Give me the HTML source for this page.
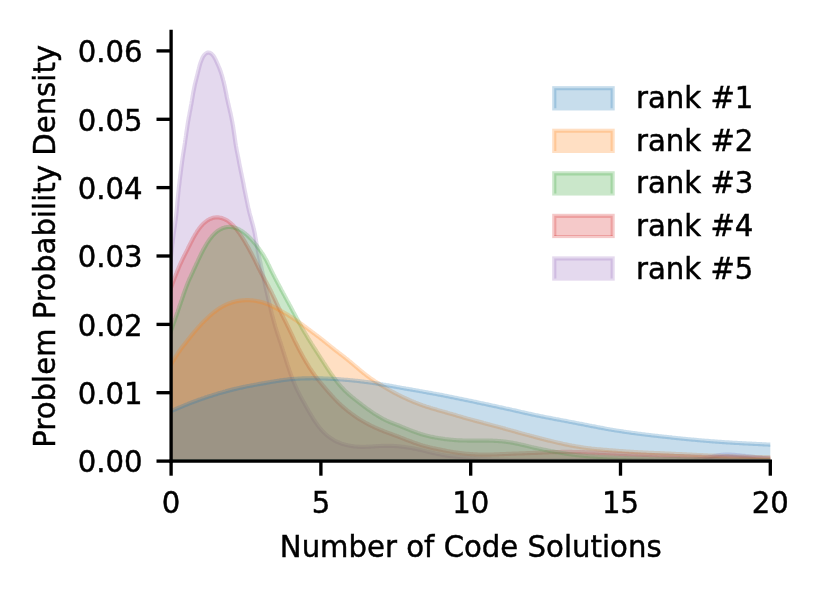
<!DOCTYPE html>
<html><head><meta charset="utf-8"><title>KDE plot</title>
<style>
html,body{margin:0;padding:0;background:#fff;}
svg{display:block;}
text{font-family:"DejaVu Sans","Liberation Sans",sans-serif;font-size:29.17px;fill:#000;stroke:#000;stroke-width:0.45px;}
</style></head><body>
<svg width="820" height="598" viewBox="0 0 820 598">
<rect width="820" height="598" fill="#fff"/>
<defs><clipPath id="ax"><rect x="171.1" y="31.5" width="599.2" height="429.6"/></clipPath></defs>

<g clip-path="url(#ax)" stroke-width="4.17" stroke-linejoin="round">
<path d="M165.1,461.1L164.0,338.1L170.0,267.9L170.1,266.9L170.2,265.9L170.3,264.9L170.4,263.9L170.5,262.9L170.6,261.9L170.7,260.9L170.7,259.9L170.8,258.9L170.9,257.9L171.0,256.9L171.1,255.9L171.2,254.9L171.3,254.0L171.4,253.0L171.5,252.0L171.6,251.0L171.7,250.0L171.8,249.0L171.9,248.0L172.0,247.0L172.1,246.0L172.2,245.0L172.3,244.0L172.5,243.0L172.6,242.0L172.7,241.0L172.8,240.0L173.0,239.0L173.1,238.0L173.2,237.0L173.4,236.0L173.5,235.0L173.6,234.0L173.8,233.1L173.9,232.1L174.1,231.1L174.2,230.1L174.3,229.1L174.5,228.1L174.6,227.1L174.8,226.1L174.9,225.1L175.0,224.2L175.2,223.2L175.3,222.2L175.4,221.2L175.6,220.2L175.7,219.2L175.8,218.2L175.9,217.2L176.1,216.2L176.2,215.3L176.3,214.3L176.4,213.3L176.5,212.3L176.6,211.3L176.7,210.3L176.8,209.3L176.9,208.3L177.0,207.3L177.1,206.3L177.2,205.3L177.3,204.3L177.3,203.3L177.4,202.3L177.5,201.3L177.6,200.3L177.7,199.3L177.8,198.3L177.9,197.4L178.0,196.4L178.1,195.4L178.2,194.4L178.3,193.4L178.4,192.4L178.5,191.4L178.6,190.4L178.7,189.4L178.8,188.4L178.9,187.4L179.0,186.4L179.1,185.4L179.3,184.4L179.4,183.4L179.5,182.4L179.6,181.4L179.7,180.4L179.8,179.4L180.0,178.4L180.1,177.4L180.2,176.4L180.3,175.5L180.5,174.5L180.6,173.5L180.7,172.5L180.8,171.5L181.0,170.5L181.1,169.5L181.2,168.5L181.3,167.5L181.5,166.5L181.6,165.5L181.7,164.5L181.9,163.5L182.0,162.6L182.1,161.6L182.3,160.6L182.4,159.6L182.5,158.6L182.7,157.6L182.8,156.6L183.0,155.6L183.1,154.6L183.3,153.6L183.4,152.6L183.6,151.7L183.7,150.7L183.9,149.7L184.1,148.7L184.2,147.7L184.4,146.7L184.5,145.7L184.7,144.7L184.8,143.8L185.0,142.8L185.1,141.8L185.2,140.8L185.4,139.8L185.5,138.8L185.7,137.8L185.8,136.8L186.0,135.8L186.1,134.9L186.2,133.9L186.4,132.9L186.5,131.9L186.7,130.9L186.8,129.9L187.0,128.9L187.1,127.9L187.3,126.9L187.4,125.9L187.6,124.9L187.7,124.0L187.9,123.0L188.0,122.0L188.2,121.0L188.4,120.0L188.6,119.0L188.7,118.0L188.9,117.0L189.1,116.1L189.3,115.1L189.5,114.1L189.6,113.1L189.8,112.1L190.0,111.1L190.2,110.2L190.4,109.2L190.6,108.2L190.7,107.2L190.9,106.2L191.1,105.2L191.3,104.3L191.5,103.3L191.6,102.3L191.8,101.3L192.0,100.3L192.1,99.3L192.3,98.4L192.5,97.4L192.6,96.4L192.8,95.4L193.0,94.4L193.1,93.4L193.3,92.4L193.5,91.4L193.7,90.5L193.9,89.5L194.1,88.5L194.3,87.5L194.5,86.5L194.7,85.5L194.9,84.5L195.1,83.6L195.4,82.6L195.6,81.6L195.9,80.6L196.1,79.7L196.4,78.7L196.6,77.7L196.8,76.8L197.1,75.8L197.3,74.8L197.6,73.9L197.8,72.9L198.0,71.9L198.3,71.0L198.5,70.0L198.8,69.0L199.0,68.0L199.3,67.1L199.5,66.1L199.8,65.1L200.1,64.1L200.4,63.1L200.7,62.2L201.1,61.2L201.5,60.2L201.9,59.2L202.3,58.2L202.8,57.2L203.3,56.3L204.0,55.4L204.7,54.5L205.5,53.8L206.4,53.1L207.4,52.7L208.5,52.6L209.6,52.8L210.6,53.2L211.5,53.8L212.3,54.6L213.0,55.4L213.7,56.3L214.3,57.2L214.8,58.2L215.3,59.1L215.8,60.1L216.2,61.0L216.7,61.9L217.1,62.9L217.5,63.8L217.9,64.7L218.3,65.6L218.7,66.6L219.1,67.5L219.5,68.5L219.8,69.4L220.2,70.3L220.5,71.3L220.9,72.3L221.2,73.2L221.5,74.2L221.8,75.1L222.1,76.1L222.3,77.1L222.6,78.0L222.9,79.0L223.1,80.0L223.4,81.0L223.6,81.9L223.9,82.9L224.1,83.9L224.3,84.9L224.6,85.9L224.8,86.8L225.0,87.8L225.2,88.8L225.4,89.8L225.6,90.8L225.8,91.8L226.0,92.7L226.2,93.7L226.4,94.7L226.5,95.7L226.7,96.7L226.9,97.6L227.1,98.6L227.4,99.6L227.6,100.6L227.8,101.5L228.0,102.5L228.2,103.5L228.4,104.4L228.7,105.4L228.9,106.4L229.1,107.4L229.4,108.3L229.6,109.3L229.8,110.3L230.0,111.3L230.2,112.2L230.5,113.2L230.7,114.2L230.9,115.2L231.1,116.2L231.3,117.1L231.5,118.1L231.7,119.1L231.9,120.1L232.1,121.1L232.3,122.1L232.5,123.1L232.6,124.1L232.8,125.0L233.0,126.0L233.1,127.0L233.3,128.0L233.4,129.0L233.6,130.0L233.7,131.0L233.9,132.0L234.0,133.0L234.2,134.0L234.3,135.0L234.5,135.9L234.6,136.9L234.7,137.9L234.9,138.9L235.0,139.9L235.2,140.9L235.3,141.9L235.4,142.9L235.6,143.8L235.8,144.8L235.9,145.8L236.1,146.8L236.3,147.8L236.4,148.7L236.6,149.7L236.8,150.7L237.0,151.7L237.2,152.7L237.4,153.6L237.6,154.6L237.8,155.6L238.0,156.6L238.2,157.5L238.4,158.5L238.6,159.5L238.8,160.5L239.0,161.5L239.1,162.5L239.3,163.4L239.5,164.4L239.7,165.4L239.9,166.4L240.1,167.4L240.3,168.3L240.5,169.3L240.7,170.3L240.9,171.3L241.1,172.3L241.3,173.2L241.5,174.2L241.7,175.2L241.9,176.2L242.1,177.2L242.3,178.1L242.5,179.1L242.7,180.1L242.9,181.1L243.1,182.1L243.3,183.0L243.5,184.0L243.7,185.0L243.8,186.0L244.0,187.0L244.2,188.0L244.4,188.9L244.6,189.9L244.8,190.9L245.0,191.9L245.2,192.9L245.4,193.8L245.6,194.8L245.8,195.8L246.0,196.8L246.2,197.8L246.4,198.7L246.6,199.7L246.8,200.7L247.0,201.7L247.2,202.7L247.4,203.6L247.6,204.6L247.8,205.6L248.0,206.5L248.2,207.5L248.5,208.5L248.7,209.5L248.9,210.4L249.2,211.4L249.4,212.4L249.6,213.3L249.9,214.3L250.1,215.3L250.4,216.2L250.7,217.2L250.9,218.1L251.2,219.1L251.4,220.1L251.7,221.0L252.0,222.0L252.2,223.0L252.5,223.9L252.8,224.9L253.0,225.9L253.3,226.8L253.5,227.8L253.7,228.8L254.0,229.8L254.2,230.8L254.4,231.7L254.6,232.7L254.8,233.7L255.0,234.7L255.1,235.7L255.3,236.7L255.5,237.7L255.7,238.6L255.8,239.6L256.0,240.6L256.2,241.6L256.4,242.6L256.5,243.6L256.7,244.5L256.9,245.5L257.1,246.5L257.3,247.5L257.5,248.5L257.6,249.4L257.8,250.4L258.0,251.4L258.2,252.4L258.4,253.4L258.6,254.3L258.8,255.3L259.0,256.3L259.2,257.3L259.4,258.2L259.6,259.2L259.8,260.2L260.0,261.2L260.3,262.2L260.5,263.1L260.7,264.1L260.9,265.1L261.1,266.1L261.3,267.0L261.5,268.0L261.7,269.0L261.9,270.0L262.1,271.0L262.4,271.9L262.6,272.9L262.8,273.9L263.0,274.9L263.2,275.9L263.4,276.8L263.6,277.8L263.8,278.8L264.0,279.8L264.2,280.7L264.4,281.7L264.7,282.7L264.9,283.7L265.1,284.6L265.3,285.6L265.5,286.6L265.7,287.6L266.0,288.5L266.2,289.5L266.4,290.5L266.6,291.5L266.9,292.4L267.1,293.4L267.3,294.4L267.5,295.4L267.8,296.3L268.0,297.3L268.2,298.3L268.4,299.3L268.7,300.2L268.9,301.2L269.1,302.2L269.3,303.2L269.5,304.1L269.8,305.1L270.0,306.1L270.2,307.0L270.5,308.0L270.7,309.0L270.9,310.0L271.1,310.9L271.4,311.9L271.6,312.9L271.8,313.8L272.1,314.8L272.3,315.8L272.6,316.7L272.8,317.7L273.1,318.7L273.3,319.6L273.6,320.6L273.9,321.5L274.1,322.5L274.4,323.5L274.7,324.4L275.0,325.4L275.2,326.3L275.5,327.3L275.8,328.2L276.1,329.2L276.4,330.1L276.7,331.1L277.0,332.0L277.3,333.0L277.6,333.9L277.9,334.9L278.3,335.8L278.6,336.8L278.9,337.7L279.2,338.7L279.5,339.6L279.8,340.6L280.1,341.5L280.5,342.5L280.8,343.4L281.1,344.4L281.4,345.3L281.7,346.3L282.0,347.2L282.3,348.2L282.6,349.2L282.9,350.1L283.2,351.1L283.5,352.0L283.8,353.0L284.1,353.9L284.4,354.9L284.7,355.8L285.0,356.8L285.3,357.7L285.6,358.7L285.9,359.7L286.2,360.6L286.5,361.6L286.8,362.5L287.1,363.5L287.4,364.4L287.7,365.4L288.0,366.3L288.4,367.3L288.7,368.2L289.0,369.1L289.3,370.1L289.6,371.0L290.0,372.0L290.3,372.9L290.6,373.9L291.0,374.8L291.3,375.7L291.6,376.7L292.0,377.6L292.3,378.5L292.7,379.4L293.1,380.4L293.4,381.3L293.8,382.2L294.2,383.1L294.6,384.1L295.0,385.0L295.4,385.9L295.8,386.8L296.2,387.7L296.6,388.6L297.0,389.5L297.4,390.4L297.9,391.3L298.3,392.1L298.8,393.0L299.2,393.9L299.7,394.8L300.1,395.7L300.6,396.6L301.1,397.4L301.6,398.3L302.0,399.2L302.5,400.1L303.0,400.9L303.5,401.8L304.0,402.7L304.5,403.5L305.0,404.4L305.4,405.3L305.9,406.2L306.4,407.0L306.9,407.9L307.4,408.8L307.9,409.7L308.4,410.5L308.9,411.4L309.4,412.3L309.9,413.1L310.4,414.0L310.9,414.9L311.4,415.7L312.0,416.6L312.5,417.4L313.0,418.3L313.5,419.1L314.1,420.0L314.6,420.8L315.2,421.6L315.7,422.4L316.3,423.3L316.9,424.1L317.5,424.9L318.0,425.7L318.6,426.4L319.2,427.2L319.9,428.0L320.5,428.7L321.1,429.5L321.8,430.2L322.5,430.9L323.1,431.7L323.8,432.4L324.5,433.0L325.2,433.7L326.0,434.4L326.7,435.0L327.4,435.7L328.2,436.3L329.0,436.9L329.8,437.5L330.6,438.0L331.4,438.6L332.2,439.1L333.0,439.6L333.8,440.1L334.7,440.6L335.5,441.0L336.4,441.5L337.3,441.9L338.2,442.3L339.1,442.6L340.0,443.0L340.9,443.3L341.8,443.7L342.8,444.0L343.7,444.3L344.7,444.5L345.6,444.8L346.6,445.0L347.5,445.3L348.5,445.5L349.4,445.6L350.4,445.8L351.4,446.0L352.4,446.1L353.3,446.2L354.3,446.4L355.3,446.5L356.3,446.5L357.3,446.6L358.2,446.7L359.2,446.7L360.2,446.8L361.2,446.8L362.2,446.8L363.2,446.8L364.2,446.8L365.2,446.8L366.2,446.7L367.2,446.7L368.2,446.7L369.2,446.6L370.2,446.6L371.2,446.5L372.2,446.5L373.1,446.4L374.1,446.3L375.1,446.3L376.1,446.2L377.1,446.2L378.1,446.1L379.2,446.0L380.2,446.0L381.2,445.9L382.2,445.9L383.2,445.9L384.2,445.8L385.2,445.8L386.2,445.8L387.2,445.8L388.2,445.8L389.2,445.8L390.2,445.8L391.2,445.8L392.2,445.9L393.2,445.9L394.3,446.0L395.3,446.1L396.3,446.1L397.3,446.2L398.3,446.3L399.3,446.4L400.3,446.5L401.3,446.6L402.3,446.7L403.3,446.8L404.3,446.9L405.3,447.1L406.3,447.2L407.3,447.4L408.3,447.5L409.3,447.7L410.2,447.8L411.2,448.0L412.2,448.2L413.2,448.4L414.2,448.6L415.2,448.8L416.2,449.0L417.2,449.2L418.1,449.4L419.1,449.6L420.1,449.8L421.1,450.1L422.1,450.3L423.0,450.5L424.0,450.7L425.0,451.0L426.0,451.2L426.9,451.5L427.9,451.7L428.9,451.9L429.9,452.2L430.8,452.4L431.8,452.6L432.8,452.9L433.7,453.1L434.7,453.3L435.7,453.5L436.6,453.7L437.6,453.9L438.6,454.1L439.6,454.3L440.5,454.5L441.5,454.7L442.5,454.9L443.5,455.1L444.4,455.2L445.4,455.4L446.4,455.6L447.4,455.7L448.4,455.8L449.3,456.0L450.3,456.1L451.3,456.2L452.3,456.3L453.3,456.4L454.3,456.5L455.3,456.6L456.3,456.7L457.3,456.8L458.3,456.9L459.3,457.0L460.2,457.1L461.2,457.2L462.2,457.3L463.2,457.4L464.2,457.5L465.2,457.6L466.2,457.7L467.2,457.7L468.2,457.8L469.2,457.9L470.2,458.0L471.2,458.1L472.2,458.2L473.2,458.3L474.2,458.3L475.2,458.4L476.2,458.5L477.2,458.6L478.2,458.7L479.2,458.7L480.2,458.8L481.2,458.9L482.1,458.9L483.1,459.0L484.1,459.1L485.1,459.1L486.1,459.2L487.1,459.2L488.1,459.3L489.1,459.4L490.1,459.4L491.1,459.4L492.1,459.5L493.1,459.5L494.1,459.6L495.1,459.6L496.1,459.6L497.1,459.7L498.1,459.7L499.1,459.7L500.1,459.8L501.1,459.8L502.1,459.8L503.1,459.8L504.1,459.9L505.1,459.9L506.1,459.9L507.1,459.9L508.1,459.9L509.1,460.0L510.1,460.0L511.1,460.0L512.1,460.0L513.1,460.0L514.1,460.0L515.1,460.0L516.1,460.0L517.1,460.0L518.1,460.1L519.1,460.1L520.1,460.1L521.1,460.1L522.1,460.1L523.1,460.1L524.1,460.1L525.1,460.1L526.1,460.1L527.1,460.1L528.1,460.1L529.1,460.1L530.1,460.1L531.1,460.1L532.1,460.1L533.1,460.1L534.1,460.1L535.1,460.1L536.1,460.1L537.1,460.1L538.1,460.1L539.1,460.1L540.1,460.1L541.1,460.1L542.1,460.1L543.1,460.1L544.1,460.1L545.1,460.1L546.1,460.1L547.1,460.1L548.1,460.1L549.1,460.1L550.1,460.1L551.1,460.1L552.1,460.1L553.1,460.1L554.1,460.1L555.1,460.1L556.1,460.1L557.1,460.1L558.1,460.1L559.1,460.1L560.1,460.1L561.1,460.1L562.1,460.1L563.1,460.1L564.1,460.1L565.1,460.1L566.1,460.1L567.1,460.1L568.1,460.1L569.1,460.1L570.1,460.1L571.1,460.1L572.1,460.1L573.1,460.1L574.1,460.1L575.1,460.1L576.1,460.1L577.1,460.1L578.1,460.1L579.1,460.1L580.1,460.1L581.1,460.1L582.1,460.1L583.1,460.1L584.1,460.1L585.1,460.1L586.1,460.1L587.1,460.1L588.1,460.1L589.1,460.1L590.1,460.1L591.1,460.1L592.1,460.1L593.1,460.1L594.1,460.1L595.1,460.1L596.1,460.1L597.1,460.1L598.1,460.1L599.1,460.1L600.1,460.1L601.1,460.1L602.1,460.1L603.1,460.1L604.1,460.1L605.1,460.1L606.1,460.1L607.1,460.1L608.1,460.1L609.1,460.1L610.1,460.1L611.1,460.1L612.1,460.1L613.1,460.1L614.1,460.1L615.1,460.1L616.1,460.1L617.1,460.1L618.1,460.1L619.1,460.1L620.1,460.1L621.1,460.1L622.1,460.1L623.1,460.1L624.1,460.1L625.1,460.1L626.1,460.1L627.1,460.1L628.1,460.1L629.1,460.1L630.1,460.1L631.1,460.1L632.1,460.1L633.1,460.1L634.1,460.1L635.1,460.1L636.1,460.1L637.1,460.1L638.1,460.1L639.1,460.1L640.1,460.1L641.1,460.1L642.1,460.1L643.1,460.1L644.1,460.1L645.1,460.1L646.1,460.1L647.1,460.1L648.1,460.1L649.1,460.1L650.1,460.1L651.1,460.1L652.1,460.1L653.1,460.1L654.1,460.1L655.1,460.1L656.1,460.1L657.1,460.1L658.1,460.1L659.1,460.1L660.1,460.1L661.1,460.1L662.1,460.1L663.1,460.1L664.1,460.1L665.1,460.1L666.1,460.1L667.1,460.1L668.1,460.1L669.1,460.1L670.1,460.1L671.1,460.1L672.1,460.1L673.1,460.1L674.1,460.1L675.1,460.2L676.1,460.2L677.1,460.2L678.1,460.2L679.1,460.2L680.1,460.2L681.1,460.2L682.1,460.2L683.1,460.2L684.1,460.2L685.1,460.2L686.1,460.2L687.1,460.2L688.1,460.2L689.1,460.2L690.0,460.2L691.0,460.1L692.0,460.1L693.0,460.0L694.0,460.0L695.0,459.9L695.9,459.8L696.9,459.7L697.9,459.6L698.9,459.4L699.8,459.3L700.8,459.1L701.8,459.0L702.7,458.8L703.7,458.6L704.7,458.4L705.6,458.2L706.6,457.9L707.6,457.7L708.5,457.5L709.5,457.2L710.5,457.0L711.4,456.7L712.4,456.5L713.4,456.2L714.4,456.0L715.4,455.8L716.4,455.6L717.4,455.4L718.4,455.3L719.4,455.1L720.4,455.0L721.4,454.9L722.4,454.8L723.4,454.7L724.4,454.7L725.4,454.6L726.4,454.6L727.4,454.6L728.5,454.6L729.5,454.6L730.5,454.7L731.5,454.7L732.5,454.8L733.5,454.9L734.5,454.9L735.5,455.0L736.5,455.1L737.5,455.2L738.5,455.3L739.5,455.4L740.5,455.5L741.5,455.6L742.5,455.7L743.5,455.8L744.5,455.9L745.5,456.1L746.5,456.2L747.5,456.3L748.5,456.4L749.5,456.5L750.5,456.6L751.5,456.8L752.5,456.9L753.5,457.0L754.4,457.1L755.4,457.2L756.4,457.4L757.4,457.5L758.4,457.6L759.4,457.7L760.4,457.8L761.4,457.9L762.4,458.1L763.4,458.2L764.4,458.3L765.4,458.4L766.4,458.5L767.4,458.6L768.3,458.7L769.3,458.9L770.4,459.0L776.3,459.0L776.3,461.1Z" fill="#9467bd" fill-opacity="0.25" stroke="#9467bd" stroke-opacity="0.25"/>
<path d="M165.1,461.1L165.0,305.3L171.0,287.9L171.3,287.0L171.6,286.0L172.0,285.1L172.3,284.1L172.6,283.2L173.0,282.3L173.3,281.3L173.7,280.4L174.0,279.5L174.4,278.5L174.7,277.6L175.1,276.7L175.5,275.7L175.8,274.8L176.2,273.9L176.6,272.9L176.9,272.0L177.3,271.1L177.7,270.2L178.1,269.2L178.5,268.3L178.8,267.4L179.2,266.5L179.6,265.6L180.0,264.6L180.4,263.7L180.9,262.8L181.3,261.9L181.7,261.0L182.1,260.1L182.5,259.2L183.0,258.3L183.4,257.4L183.9,256.5L184.3,255.6L184.8,254.7L185.2,253.8L185.7,252.9L186.1,252.0L186.6,251.2L187.0,250.3L187.5,249.4L187.9,248.5L188.4,247.6L188.8,246.7L189.3,245.8L189.7,244.9L190.2,244.0L190.6,243.1L191.1,242.2L191.5,241.3L192.0,240.4L192.5,239.5L192.9,238.6L193.4,237.7L193.9,236.8L194.4,236.0L194.9,235.1L195.4,234.2L196.0,233.3L196.5,232.5L197.0,231.6L197.6,230.8L198.2,229.9L198.8,229.1L199.4,228.3L200.0,227.5L200.6,226.7L201.3,225.9L201.9,225.2L202.6,224.5L203.3,223.7L204.1,223.1L204.8,222.4L205.6,221.8L206.4,221.2L207.2,220.6L208.0,220.1L208.9,219.6L209.7,219.1L210.6,218.7L211.5,218.4L212.4,218.1L213.4,217.8L214.3,217.6L215.2,217.5L216.2,217.4L217.1,217.4L218.1,217.4L219.1,217.5L220.0,217.7L220.9,217.9L221.9,218.1L222.8,218.4L223.7,218.8L224.6,219.2L225.5,219.6L226.4,220.1L227.2,220.6L228.0,221.1L228.8,221.7L229.6,222.3L230.4,223.0L231.2,223.6L231.9,224.3L232.7,225.0L233.4,225.7L234.1,226.5L234.7,227.2L235.4,228.0L236.1,228.8L236.7,229.6L237.3,230.4L237.9,231.2L238.5,232.0L239.1,232.8L239.7,233.6L240.3,234.5L240.8,235.3L241.4,236.2L241.9,237.0L242.5,237.9L243.0,238.7L243.5,239.6L244.1,240.4L244.6,241.3L245.1,242.2L245.6,243.0L246.1,243.9L246.6,244.8L247.1,245.6L247.6,246.5L248.1,247.4L248.6,248.2L249.0,249.1L249.5,250.0L250.0,250.9L250.5,251.8L251.0,252.6L251.4,253.5L251.9,254.4L252.4,255.3L252.8,256.2L253.3,257.1L253.7,258.0L254.2,258.8L254.6,259.7L255.1,260.6L255.5,261.5L255.9,262.4L256.4,263.3L256.8,264.2L257.2,265.1L257.7,266.0L258.1,266.9L258.5,267.8L259.0,268.7L259.4,269.6L259.9,270.5L260.3,271.4L260.8,272.3L261.3,273.2L261.7,274.0L262.2,274.9L262.7,275.8L263.2,276.7L263.7,277.5L264.2,278.4L264.6,279.3L265.1,280.2L265.6,281.0L266.1,281.9L266.6,282.8L267.0,283.7L267.5,284.5L268.0,285.4L268.4,286.3L268.9,287.2L269.4,288.1L269.8,289.0L270.3,289.9L270.7,290.8L271.2,291.7L271.6,292.6L272.1,293.5L272.5,294.4L272.9,295.2L273.4,296.2L273.8,297.1L274.2,298.0L274.7,298.9L275.1,299.8L275.5,300.7L275.9,301.6L276.3,302.5L276.8,303.4L277.2,304.3L277.6,305.2L278.0,306.1L278.4,307.0L278.9,307.9L279.3,308.8L279.7,309.7L280.1,310.6L280.6,311.6L281.0,312.5L281.4,313.4L281.9,314.3L282.3,315.2L282.7,316.1L283.2,317.0L283.6,317.9L284.0,318.8L284.5,319.6L284.9,320.5L285.4,321.4L285.8,322.3L286.3,323.2L286.7,324.1L287.1,325.0L287.6,325.9L288.0,326.8L288.5,327.7L288.9,328.6L289.3,329.5L289.8,330.4L290.2,331.3L290.6,332.2L291.1,333.1L291.5,334.0L291.9,334.9L292.3,335.8L292.8,336.7L293.2,337.6L293.6,338.6L294.1,339.5L294.5,340.4L294.9,341.2L295.4,342.1L295.8,343.0L296.3,343.9L296.7,344.8L297.2,345.7L297.6,346.6L298.1,347.5L298.5,348.4L299.0,349.3L299.5,350.2L299.9,351.0L300.4,351.9L300.9,352.8L301.4,353.7L301.8,354.6L302.3,355.4L302.8,356.3L303.3,357.2L303.8,358.1L304.3,358.9L304.8,359.8L305.3,360.7L305.8,361.5L306.3,362.4L306.8,363.2L307.4,364.1L307.9,365.0L308.4,365.8L308.9,366.7L309.5,367.5L310.0,368.3L310.6,369.2L311.1,370.0L311.7,370.8L312.2,371.7L312.8,372.5L313.4,373.3L314.0,374.1L314.5,374.9L315.1,375.7L315.7,376.5L316.3,377.3L316.9,378.1L317.5,378.9L318.2,379.7L318.8,380.5L319.4,381.3L320.0,382.0L320.7,382.8L321.3,383.6L322.0,384.3L322.6,385.1L323.3,385.9L323.9,386.6L324.6,387.4L325.2,388.2L325.9,388.9L326.5,389.7L327.2,390.4L327.8,391.2L328.5,391.9L329.1,392.7L329.8,393.4L330.5,394.2L331.1,394.9L331.8,395.7L332.5,396.4L333.2,397.2L333.8,397.9L334.5,398.6L335.2,399.4L335.9,400.1L336.6,400.8L337.3,401.5L338.0,402.2L338.7,402.9L339.4,403.6L340.2,404.3L340.9,405.0L341.6,405.6L342.4,406.3L343.1,407.0L343.9,407.6L344.7,408.3L345.4,408.9L346.2,409.5L347.0,410.2L347.7,410.8L348.5,411.4L349.3,412.0L350.1,412.6L350.9,413.2L351.7,413.8L352.5,414.4L353.3,415.0L354.1,415.6L355.0,416.2L355.8,416.8L356.6,417.3L357.4,417.9L358.3,418.4L359.1,418.9L360.0,419.5L360.8,420.0L361.7,420.5L362.5,421.0L363.4,421.5L364.3,422.0L365.1,422.5L366.0,423.0L366.9,423.5L367.8,423.9L368.7,424.4L369.5,424.9L370.4,425.3L371.3,425.8L372.2,426.2L373.1,426.6L374.0,427.1L374.9,427.5L375.8,427.9L376.8,428.3L377.7,428.7L378.6,429.1L379.5,429.5L380.4,429.9L381.3,430.3L382.3,430.6L383.2,431.0L384.1,431.4L385.1,431.7L386.0,432.1L386.9,432.4L387.9,432.8L388.8,433.1L389.8,433.4L390.7,433.8L391.6,434.1L392.6,434.5L393.5,434.8L394.4,435.2L395.4,435.5L396.3,435.9L397.3,436.2L398.2,436.6L399.1,436.9L400.1,437.3L401.0,437.7L401.9,438.0L402.9,438.4L403.8,438.8L404.7,439.1L405.6,439.5L406.6,439.9L407.5,440.2L408.4,440.6L409.4,440.9L410.3,441.3L411.3,441.6L412.2,442.0L413.1,442.3L414.1,442.7L415.0,443.0L416.0,443.3L416.9,443.6L417.8,444.0L418.8,444.3L419.7,444.6L420.7,444.9L421.7,445.2L422.6,445.5L423.6,445.7L424.5,446.0L425.5,446.3L426.5,446.5L427.4,446.8L428.4,447.0L429.4,447.3L430.3,447.5L431.3,447.7L432.3,448.0L433.3,448.2L434.2,448.4L435.2,448.6L436.2,448.8L437.2,449.0L438.2,449.2L439.1,449.4L440.1,449.6L441.1,449.8L442.1,450.0L443.1,450.2L444.0,450.4L445.0,450.6L446.0,450.8L447.0,451.0L448.0,451.2L449.0,451.3L449.9,451.5L450.9,451.7L451.9,451.8L452.9,452.0L453.9,452.2L454.9,452.3L455.9,452.5L456.9,452.6L457.8,452.8L458.8,452.9L459.8,453.0L460.8,453.1L461.8,453.3L462.8,453.4L463.8,453.5L464.8,453.6L465.8,453.7L466.8,453.8L467.8,453.9L468.8,453.9L469.8,454.0L470.8,454.1L471.8,454.2L472.8,454.2L473.8,454.3L474.8,454.3L475.8,454.4L476.8,454.4L477.8,454.5L478.8,454.5L479.8,454.5L480.8,454.6L481.8,454.6L482.8,454.6L483.8,454.6L484.8,454.6L485.8,454.6L486.8,454.6L487.8,454.6L488.8,454.6L489.8,454.6L490.8,454.6L491.8,454.5L492.8,454.5L493.8,454.5L494.8,454.4L495.8,454.4L496.8,454.4L497.8,454.3L498.8,454.3L499.8,454.2L500.8,454.2L501.8,454.2L502.7,454.1L503.7,454.1L504.7,454.0L505.7,454.0L506.7,453.9L507.7,453.9L508.7,453.8L509.7,453.8L510.7,453.8L511.7,453.7L512.7,453.7L513.7,453.6L514.7,453.6L515.7,453.6L516.7,453.5L517.7,453.5L518.7,453.5L519.7,453.4L520.7,453.4L521.7,453.4L522.7,453.3L523.7,453.3L524.7,453.3L525.7,453.2L526.7,453.2L527.7,453.1L528.7,453.1L529.7,453.1L530.7,453.0L531.7,453.0L532.7,453.0L533.7,452.9L534.7,452.9L535.7,452.8L536.7,452.8L537.7,452.8L538.7,452.7L539.7,452.7L540.7,452.6L541.7,452.6L542.7,452.5L543.7,452.5L544.7,452.5L545.7,452.4L546.7,452.4L547.7,452.3L548.7,452.3L549.7,452.2L550.7,452.2L551.7,452.2L552.7,452.1L553.7,452.1L554.7,452.1L555.7,452.1L556.7,452.0L557.7,452.0L558.7,452.0L559.7,452.0L560.7,452.0L561.7,451.9L562.7,451.9L563.7,451.9L564.7,451.9L565.7,451.9L566.7,451.9L567.7,451.9L568.7,451.9L569.7,451.9L570.7,451.9L571.7,451.9L572.7,452.0L573.7,452.0L574.7,452.0L575.7,452.0L576.7,452.0L577.7,452.1L578.7,452.1L579.7,452.1L580.7,452.1L581.7,452.2L582.7,452.2L583.7,452.2L584.7,452.2L585.7,452.3L586.7,452.3L587.7,452.4L588.7,452.4L589.7,452.4L590.7,452.5L591.7,452.5L592.7,452.6L593.7,452.6L594.7,452.6L595.7,452.7L596.7,452.7L597.7,452.8L598.7,452.8L599.7,452.9L600.7,452.9L601.7,453.0L602.7,453.0L603.7,453.0L604.7,453.1L605.7,453.1L606.7,453.2L607.7,453.2L608.7,453.3L609.7,453.3L610.7,453.4L611.7,453.4L612.7,453.5L613.7,453.5L614.7,453.6L615.7,453.6L616.7,453.7L617.7,453.7L618.7,453.8L619.7,453.8L620.7,453.9L621.7,453.9L622.7,454.0L623.7,454.0L624.7,454.1L625.7,454.1L626.7,454.1L627.7,454.2L628.7,454.2L629.7,454.3L630.7,454.3L631.7,454.4L632.7,454.4L633.7,454.4L634.7,454.5L635.7,454.5L636.7,454.6L637.7,454.6L638.7,454.7L639.7,454.7L640.7,454.7L641.7,454.8L642.7,454.8L643.7,454.8L644.7,454.9L645.7,454.9L646.7,455.0L647.7,455.0L648.7,455.0L649.6,455.1L650.6,455.1L651.6,455.1L652.6,455.2L653.6,455.2L654.6,455.2L655.6,455.3L656.6,455.3L657.6,455.4L658.6,455.4L659.6,455.4L660.6,455.5L661.6,455.5L662.6,455.5L663.6,455.6L664.6,455.6L665.6,455.6L666.6,455.7L667.6,455.7L668.6,455.7L669.6,455.8L670.6,455.8L671.6,455.8L672.6,455.9L673.6,455.9L674.6,456.0L675.6,456.0L676.6,456.0L677.6,456.1L678.6,456.1L679.6,456.1L680.6,456.2L681.6,456.2L682.6,456.2L683.6,456.2L684.6,456.3L685.6,456.3L686.6,456.3L687.6,456.4L688.6,456.4L689.6,456.4L690.6,456.5L691.6,456.5L692.6,456.5L693.6,456.5L694.6,456.6L695.6,456.6L696.6,456.6L697.6,456.6L698.6,456.7L699.6,456.7L700.6,456.7L701.6,456.7L702.6,456.8L703.6,456.8L704.6,456.8L705.6,456.8L706.6,456.9L707.6,456.9L708.6,456.9L709.6,456.9L710.6,457.0L711.6,457.0L712.6,457.0L713.6,457.0L714.6,457.0L715.6,457.1L716.6,457.1L717.6,457.1L718.6,457.1L719.6,457.2L720.6,457.2L721.6,457.2L722.6,457.2L723.6,457.2L724.6,457.3L725.6,457.3L726.6,457.3L727.6,457.3L728.6,457.3L729.6,457.4L730.6,457.4L731.6,457.4L732.6,457.4L733.6,457.5L734.6,457.5L735.6,457.5L736.6,457.5L737.6,457.5L738.6,457.5L739.6,457.6L740.6,457.6L741.6,457.6L742.6,457.6L743.6,457.6L744.6,457.7L745.6,457.7L746.6,457.7L747.6,457.7L748.6,457.7L749.6,457.8L750.6,457.8L751.6,457.8L752.6,457.8L753.6,457.8L754.6,457.8L755.6,457.8L756.6,457.9L757.6,457.9L758.6,457.9L759.6,457.9L760.6,457.9L761.6,457.9L762.6,458.0L763.6,458.0L764.6,458.0L765.6,458.0L766.6,458.0L767.6,458.0L768.6,458.0L769.6,458.1L770.3,458.1L776.3,458.1L776.3,461.1Z" fill="#d62728" fill-opacity="0.25" stroke="#d62728" stroke-opacity="0.25"/>
<path d="M165.1,461.1L165.1,347.6L171.1,330.5L171.4,329.5L171.8,328.6L172.1,327.6L172.4,326.7L172.7,325.7L173.1,324.8L173.4,323.9L173.7,322.9L174.1,322.0L174.4,321.0L174.7,320.1L175.1,319.1L175.4,318.2L175.7,317.2L176.0,316.3L176.4,315.4L176.7,314.4L177.0,313.5L177.4,312.5L177.7,311.6L178.0,310.6L178.3,309.7L178.7,308.7L179.0,307.8L179.3,306.8L179.6,305.9L180.0,305.0L180.3,304.0L180.6,303.1L180.9,302.1L181.2,301.2L181.6,300.2L181.9,299.3L182.2,298.3L182.5,297.4L182.9,296.4L183.2,295.5L183.5,294.5L183.8,293.6L184.2,292.7L184.5,291.7L184.8,290.8L185.2,289.8L185.5,288.9L185.9,288.0L186.2,287.0L186.6,286.1L186.9,285.2L187.3,284.2L187.7,283.3L188.0,282.4L188.4,281.5L188.8,280.5L189.2,279.6L189.6,278.7L190.0,277.8L190.5,276.9L190.9,276.0L191.3,275.1L191.7,274.2L192.1,273.3L192.6,272.4L193.0,271.4L193.4,270.5L193.8,269.6L194.2,268.7L194.7,267.8L195.1,266.9L195.5,266.0L195.9,265.1L196.3,264.2L196.7,263.3L197.2,262.4L197.6,261.5L198.0,260.6L198.4,259.6L198.9,258.7L199.3,257.8L199.7,256.9L200.2,256.0L200.6,255.1L201.0,254.2L201.5,253.3L201.9,252.4L202.4,251.5L202.9,250.6L203.3,249.7L203.8,248.9L204.3,248.0L204.8,247.1L205.3,246.2L205.8,245.3L206.3,244.5L206.8,243.6L207.4,242.7L207.9,241.9L208.5,241.1L209.1,240.2L209.6,239.4L210.2,238.6L210.9,237.8L211.5,237.0L212.1,236.2L212.8,235.4L213.5,234.7L214.2,234.0L214.9,233.3L215.6,232.6L216.4,232.0L217.2,231.3L218.0,230.8L218.8,230.2L219.6,229.7L220.5,229.2L221.4,228.8L222.2,228.4L223.1,228.0L224.1,227.7L225.0,227.4L225.9,227.2L226.9,227.1L227.8,227.0L228.8,226.9L229.8,226.9L230.7,227.0L231.7,227.1L232.7,227.2L233.6,227.4L234.6,227.7L235.5,228.0L236.4,228.3L237.4,228.7L238.3,229.1L239.2,229.5L240.0,230.0L240.9,230.5L241.8,231.1L242.6,231.6L243.4,232.2L244.2,232.8L245.0,233.4L245.8,234.1L246.6,234.7L247.3,235.4L248.1,236.1L248.8,236.8L249.5,237.5L250.2,238.2L250.9,238.9L251.6,239.7L252.3,240.4L253.0,241.2L253.6,242.0L254.3,242.7L254.9,243.5L255.6,244.3L256.2,245.1L256.8,245.9L257.4,246.6L258.0,247.4L258.6,248.2L259.2,249.1L259.8,249.9L260.4,250.7L261.0,251.5L261.5,252.3L262.1,253.2L262.6,254.0L263.2,254.8L263.7,255.7L264.2,256.5L264.7,257.4L265.2,258.3L265.7,259.1L266.2,260.0L266.7,260.9L267.1,261.8L267.6,262.7L268.0,263.6L268.4,264.4L268.9,265.3L269.3,266.2L269.7,267.2L270.2,268.1L270.6,269.0L271.0,269.9L271.4,270.8L271.9,271.7L272.3,272.6L272.8,273.5L273.2,274.3L273.7,275.2L274.1,276.1L274.6,277.0L275.0,277.9L275.5,278.8L276.0,279.7L276.4,280.6L276.9,281.4L277.4,282.3L277.8,283.2L278.3,284.1L278.8,285.0L279.2,285.9L279.7,286.7L280.2,287.6L280.7,288.5L281.1,289.4L281.6,290.3L282.1,291.1L282.6,292.0L283.0,292.9L283.5,293.8L284.0,294.7L284.5,295.5L284.9,296.4L285.4,297.3L285.9,298.2L286.4,299.1L286.8,299.9L287.3,300.8L287.8,301.7L288.3,302.6L288.8,303.5L289.2,304.3L289.7,305.2L290.2,306.1L290.7,307.0L291.1,307.9L291.6,308.7L292.1,309.6L292.5,310.5L293.0,311.4L293.5,312.3L294.0,313.1L294.4,314.0L294.9,314.9L295.4,315.8L295.9,316.7L296.3,317.5L296.8,318.4L297.3,319.3L297.8,320.2L298.3,321.1L298.7,321.9L299.2,322.8L299.7,323.7L300.2,324.6L300.7,325.4L301.2,326.3L301.6,327.2L302.1,328.1L302.6,328.9L303.1,329.8L303.6,330.7L304.1,331.5L304.6,332.4L305.1,333.2L305.7,334.1L306.2,335.0L306.7,335.8L307.2,336.7L307.7,337.5L308.2,338.4L308.8,339.2L309.3,340.1L309.8,340.9L310.3,341.8L310.9,342.6L311.4,343.5L311.9,344.3L312.5,345.2L313.0,346.0L313.5,346.9L314.1,347.7L314.6,348.5L315.2,349.4L315.7,350.2L316.2,351.1L316.8,351.9L317.3,352.7L317.9,353.6L318.4,354.4L319.0,355.3L319.5,356.1L320.0,356.9L320.6,357.8L321.1,358.6L321.7,359.5L322.2,360.3L322.8,361.2L323.3,362.0L323.8,362.8L324.4,363.7L324.9,364.5L325.5,365.4L326.0,366.2L326.6,367.0L327.1,367.9L327.7,368.7L328.2,369.5L328.8,370.4L329.3,371.2L329.9,372.0L330.5,372.9L331.0,373.7L331.6,374.5L332.2,375.3L332.8,376.1L333.4,376.9L333.9,377.8L334.5,378.6L335.1,379.4L335.8,380.2L336.4,380.9L337.0,381.7L337.6,382.5L338.2,383.3L338.9,384.1L339.5,384.8L340.2,385.6L340.8,386.3L341.5,387.1L342.2,387.8L342.9,388.5L343.5,389.3L344.2,390.0L344.9,390.7L345.7,391.4L346.4,392.1L347.1,392.7L347.8,393.4L348.6,394.1L349.3,394.7L350.1,395.4L350.9,396.0L351.6,396.7L352.4,397.3L353.2,397.9L354.0,398.6L354.7,399.2L355.5,399.8L356.3,400.4L357.1,401.0L357.9,401.7L358.7,402.3L359.5,402.9L360.3,403.5L361.1,404.1L361.8,404.7L362.6,405.3L363.4,405.9L364.2,406.5L365.0,407.1L365.8,407.7L366.6,408.3L367.4,408.9L368.3,409.5L369.1,410.1L369.9,410.6L370.7,411.2L371.5,411.8L372.4,412.3L373.2,412.9L374.0,413.4L374.9,414.0L375.7,414.5L376.6,415.0L377.4,415.6L378.3,416.1L379.1,416.6L380.0,417.1L380.8,417.6L381.7,418.1L382.6,418.6L383.4,419.0L384.3,419.5L385.2,419.9L386.1,420.4L387.0,420.8L387.9,421.2L388.8,421.6L389.7,422.0L390.7,422.4L391.6,422.8L392.5,423.1L393.4,423.5L394.4,423.8L395.3,424.2L396.2,424.6L397.2,424.9L398.1,425.3L399.0,425.6L399.9,426.0L400.9,426.4L401.8,426.8L402.7,427.2L403.6,427.5L404.6,427.9L405.5,428.3L406.4,428.7L407.3,429.1L408.3,429.4L409.2,429.8L410.1,430.2L411.1,430.5L412.0,430.9L412.9,431.2L413.9,431.6L414.8,431.9L415.7,432.3L416.7,432.6L417.6,432.9L418.6,433.2L419.5,433.6L420.5,433.9L421.4,434.2L422.4,434.4L423.4,434.7L424.3,435.0L425.3,435.3L426.2,435.5L427.2,435.8L428.2,436.0L429.2,436.2L430.1,436.5L431.1,436.7L432.1,436.9L433.1,437.1L434.0,437.3L435.0,437.5L436.0,437.7L437.0,437.8L438.0,438.0L439.0,438.2L440.0,438.3L440.9,438.5L441.9,438.6L442.9,438.8L443.9,438.9L444.9,439.1L445.9,439.2L446.9,439.3L447.9,439.4L448.9,439.5L449.9,439.6L450.9,439.7L451.9,439.8L452.9,439.9L453.9,440.0L454.9,440.1L455.8,440.1L456.8,440.2L457.8,440.3L458.8,440.3L459.8,440.4L460.8,440.4L461.8,440.4L462.8,440.5L463.8,440.5L464.8,440.5L465.8,440.5L466.8,440.5L467.8,440.6L468.8,440.6L469.8,440.6L470.8,440.6L471.8,440.6L472.8,440.6L473.8,440.6L474.8,440.6L475.8,440.6L476.8,440.6L477.8,440.6L478.8,440.6L479.8,440.6L480.8,440.6L481.8,440.6L482.8,440.6L483.8,440.6L484.8,440.6L485.8,440.6L486.8,440.6L487.8,440.6L488.8,440.6L489.8,440.7L490.8,440.7L491.8,440.7L492.8,440.7L493.8,440.8L494.8,440.8L495.8,440.9L496.8,440.9L497.8,441.0L498.8,441.1L499.8,441.2L500.8,441.2L501.8,441.3L502.8,441.4L503.8,441.5L504.8,441.6L505.8,441.8L506.8,441.9L507.8,442.0L508.8,442.2L509.8,442.3L510.7,442.5L511.7,442.6L512.7,442.8L513.7,443.0L514.7,443.2L515.7,443.4L516.6,443.6L517.6,443.8L518.6,444.0L519.6,444.2L520.5,444.4L521.5,444.7L522.5,444.9L523.5,445.1L524.4,445.3L525.4,445.6L526.4,445.8L527.4,446.0L528.3,446.3L529.3,446.5L530.3,446.7L531.2,447.0L532.2,447.2L533.2,447.4L534.2,447.7L535.1,447.9L536.1,448.1L537.1,448.3L538.1,448.5L539.1,448.7L540.0,448.9L541.0,449.1L542.0,449.3L543.0,449.5L543.9,449.7L544.9,449.9L545.9,450.1L546.9,450.3L547.9,450.5L548.9,450.7L549.8,450.9L550.8,451.1L551.8,451.2L552.8,451.4L553.8,451.6L554.8,451.8L555.7,452.0L556.7,452.1L557.7,452.3L558.7,452.5L559.7,452.6L560.7,452.8L561.7,453.0L562.6,453.1L563.6,453.3L564.6,453.4L565.6,453.6L566.6,453.8L567.6,453.9L568.6,454.0L569.6,454.2L570.6,454.3L571.5,454.5L572.5,454.6L573.5,454.7L574.5,454.8L575.5,455.0L576.5,455.1L577.5,455.2L578.5,455.3L579.5,455.4L580.5,455.5L581.5,455.6L582.5,455.7L583.5,455.8L584.5,455.9L585.5,456.0L586.5,456.1L587.5,456.1L588.4,456.2L589.4,456.3L590.4,456.4L591.4,456.4L592.4,456.5L593.4,456.6L594.4,456.6L595.4,456.7L596.4,456.8L597.4,456.8L598.4,456.9L599.4,457.0L600.4,457.0L601.4,457.1L602.4,457.1L603.4,457.2L604.4,457.2L605.4,457.3L606.4,457.3L607.4,457.4L608.4,457.4L609.4,457.5L610.4,457.5L611.4,457.6L612.4,457.6L613.4,457.7L614.4,457.7L615.4,457.8L616.4,457.8L617.4,457.8L618.4,457.9L619.4,457.9L620.4,458.0L621.4,458.0L622.4,458.0L623.4,458.1L624.4,458.1L625.4,458.1L626.4,458.2L627.4,458.2L628.4,458.2L629.4,458.3L630.4,458.3L631.4,458.3L632.4,458.4L633.4,458.4L634.4,458.4L635.4,458.4L636.4,458.5L637.4,458.5L638.4,458.5L639.4,458.5L640.4,458.6L641.4,458.6L642.4,458.6L643.4,458.6L644.4,458.7L645.4,458.7L646.4,458.7L647.4,458.7L648.4,458.7L649.4,458.8L650.4,458.8L651.4,458.8L652.4,458.8L653.4,458.8L654.4,458.9L655.4,458.9L656.4,458.9L657.4,458.9L658.4,458.9L659.4,459.0L660.4,459.0L661.4,459.0L662.4,459.0L663.4,459.0L664.4,459.0L665.4,459.0L666.4,459.1L667.4,459.1L668.4,459.1L669.4,459.1L670.4,459.1L671.4,459.1L672.4,459.1L673.4,459.2L674.4,459.2L675.4,459.2L676.4,459.2L677.4,459.2L678.4,459.2L679.4,459.2L680.4,459.2L681.4,459.3L682.4,459.3L683.4,459.3L684.4,459.3L685.4,459.3L686.4,459.3L687.4,459.3L688.4,459.3L689.4,459.3L690.4,459.4L691.4,459.4L692.4,459.4L693.4,459.4L694.4,459.4L695.4,459.4L696.4,459.4L697.4,459.4L698.4,459.4L699.4,459.5L700.4,459.5L701.4,459.5L702.4,459.5L703.4,459.5L704.4,459.5L705.4,459.5L706.4,459.5L707.4,459.5L708.4,459.6L709.4,459.6L710.4,459.6L711.4,459.6L712.4,459.6L713.4,459.6L714.4,459.6L715.4,459.6L716.4,459.6L717.4,459.6L718.4,459.7L719.4,459.7L720.4,459.7L721.4,459.7L722.4,459.7L723.4,459.7L724.4,459.7L725.4,459.7L726.4,459.7L727.4,459.7L728.4,459.8L729.4,459.8L730.4,459.8L731.4,459.8L732.4,459.8L733.4,459.8L734.4,459.8L735.4,459.8L736.4,459.8L737.4,459.8L738.4,459.8L739.4,459.9L740.4,459.9L741.4,459.9L742.4,459.9L743.4,459.9L744.4,459.9L745.4,459.9L746.4,459.9L747.4,459.9L748.4,459.9L749.4,459.9L750.4,459.9L751.4,459.9L752.4,459.9L753.4,460.0L754.4,460.0L755.4,460.0L756.4,460.0L757.4,460.0L758.4,460.0L759.4,460.0L760.4,460.0L761.4,460.0L762.4,460.0L763.4,460.0L764.4,460.0L765.4,460.0L766.4,460.0L767.4,460.0L768.4,460.0L769.4,460.1L770.3,460.1L776.3,460.1L776.3,461.1Z" fill="#2ca02c" fill-opacity="0.25" stroke="#2ca02c" stroke-opacity="0.25"/>
<path d="M165.1,461.1L165.1,374.0L171.1,364.2L171.6,363.4L172.1,362.5L172.6,361.7L173.2,360.8L173.7,360.0L174.2,359.1L174.7,358.3L175.3,357.4L175.8,356.6L176.3,355.7L176.9,354.9L177.4,354.1L178.0,353.2L178.5,352.4L179.1,351.6L179.7,350.8L180.2,349.9L180.8,349.1L181.4,348.3L182.0,347.5L182.6,346.7L183.2,345.9L183.8,345.1L184.4,344.4L185.1,343.6L185.7,342.8L186.3,342.0L186.9,341.2L187.5,340.4L188.1,339.6L188.8,338.8L189.4,338.1L190.0,337.3L190.6,336.5L191.2,335.7L191.9,334.9L192.5,334.2L193.1,333.4L193.8,332.6L194.4,331.8L195.1,331.1L195.7,330.3L196.4,329.6L197.0,328.8L197.7,328.1L198.3,327.3L199.0,326.6L199.7,325.8L200.4,325.1L201.0,324.4L201.7,323.6L202.4,322.9L203.1,322.2L203.8,321.5L204.5,320.8L205.3,320.1L206.0,319.4L206.7,318.7L207.4,318.0L208.2,317.3L208.9,316.6L209.6,316.0L210.4,315.3L211.2,314.6L211.9,314.0L212.7,313.3L213.5,312.7L214.2,312.1L215.0,311.5L215.8,310.9L216.6,310.3L217.5,309.7L218.3,309.1L219.1,308.6L220.0,308.0L220.8,307.5L221.7,307.0L222.5,306.5L223.4,306.0L224.3,305.6L225.2,305.1L226.1,304.7L227.0,304.3L227.9,303.9L228.9,303.5L229.8,303.2L230.7,302.9L231.7,302.6L232.6,302.3L233.6,302.0L234.6,301.7L235.5,301.5L236.5,301.3L237.5,301.1L238.5,300.9L239.5,300.8L240.5,300.6L241.4,300.5L242.4,300.4L243.4,300.3L244.4,300.3L245.4,300.2L246.4,300.2L247.4,300.2L248.4,300.2L249.4,300.2L250.4,300.3L251.4,300.4L252.4,300.4L253.4,300.5L254.4,300.7L255.4,300.8L256.4,301.0L257.4,301.2L258.4,301.4L259.3,301.6L260.3,301.8L261.3,302.1L262.2,302.3L263.2,302.6L264.1,302.9L265.1,303.3L266.0,303.6L266.9,304.0L267.9,304.3L268.8,304.7L269.7,305.1L270.6,305.5L271.5,305.9L272.4,306.4L273.3,306.8L274.2,307.3L275.1,307.7L276.0,308.2L276.9,308.6L277.8,309.1L278.7,309.6L279.6,310.1L280.5,310.5L281.3,311.0L282.2,311.5L283.1,312.0L283.9,312.5L284.8,313.0L285.7,313.6L286.5,314.1L287.4,314.6L288.2,315.1L289.1,315.7L289.9,316.2L290.8,316.7L291.6,317.3L292.4,317.8L293.3,318.4L294.1,318.9L294.9,319.5L295.8,320.0L296.6,320.6L297.4,321.2L298.2,321.7L299.1,322.3L299.9,322.9L300.7,323.5L301.5,324.0L302.3,324.6L303.1,325.2L303.9,325.8L304.7,326.4L305.5,327.0L306.3,327.6L307.1,328.2L307.9,328.8L308.7,329.4L309.5,330.0L310.3,330.6L311.1,331.2L311.9,331.8L312.7,332.4L313.5,333.0L314.3,333.6L315.1,334.2L315.9,334.8L316.7,335.4L317.5,336.0L318.3,336.6L319.1,337.2L319.9,337.8L320.7,338.5L321.5,339.1L322.3,339.7L323.1,340.3L323.8,340.9L324.6,341.6L325.4,342.2L326.2,342.8L326.9,343.4L327.7,344.1L328.5,344.7L329.3,345.3L330.1,346.0L330.8,346.6L331.6,347.2L332.4,347.8L333.2,348.5L334.0,349.1L334.7,349.7L335.5,350.3L336.3,350.9L337.1,351.5L337.9,352.1L338.7,352.7L339.5,353.4L340.3,354.0L341.1,354.6L341.9,355.2L342.7,355.8L343.5,356.4L344.2,357.0L345.0,357.6L345.8,358.3L346.6,358.9L347.4,359.5L348.1,360.1L348.9,360.8L349.7,361.4L350.5,362.0L351.2,362.7L352.0,363.3L352.8,364.0L353.5,364.6L354.3,365.3L355.1,365.9L355.8,366.6L356.6,367.2L357.4,367.8L358.1,368.5L358.9,369.1L359.6,369.8L360.4,370.4L361.2,371.1L362.0,371.7L362.7,372.3L363.5,373.0L364.3,373.6L365.1,374.2L365.9,374.8L366.6,375.4L367.4,376.0L368.2,376.6L369.1,377.2L369.9,377.8L370.7,378.4L371.5,378.9L372.3,379.5L373.2,380.1L374.0,380.6L374.8,381.2L375.7,381.7L376.5,382.2L377.3,382.8L378.2,383.3L379.0,383.8L379.9,384.4L380.7,384.9L381.6,385.4L382.4,386.0L383.3,386.5L384.2,387.0L385.0,387.5L385.9,388.0L386.7,388.5L387.6,389.0L388.5,389.5L389.3,390.0L390.2,390.5L391.1,391.0L391.9,391.5L392.8,392.0L393.7,392.4L394.6,392.9L395.5,393.4L396.4,393.8L397.3,394.3L398.1,394.8L399.0,395.2L399.9,395.6L400.8,396.1L401.7,396.5L402.6,397.0L403.5,397.4L404.4,397.8L405.3,398.2L406.3,398.7L407.2,399.1L408.1,399.5L409.0,399.9L409.9,400.3L410.8,400.7L411.7,401.1L412.7,401.5L413.6,401.9L414.5,402.2L415.4,402.6L416.4,403.0L417.3,403.3L418.2,403.7L419.2,404.1L420.1,404.4L421.0,404.7L422.0,405.1L422.9,405.4L423.9,405.7L424.8,406.0L425.8,406.4L426.7,406.7L427.7,407.0L428.6,407.3L429.6,407.6L430.5,407.9L431.5,408.2L432.4,408.5L433.4,408.8L434.4,409.1L435.3,409.3L436.3,409.6L437.2,409.9L438.2,410.2L439.2,410.5L440.1,410.7L441.1,411.0L442.0,411.3L443.0,411.6L444.0,411.8L444.9,412.1L445.9,412.4L446.9,412.6L447.8,412.9L448.8,413.2L449.7,413.5L450.7,413.7L451.7,414.0L452.6,414.3L453.6,414.6L454.6,414.8L455.5,415.1L456.5,415.4L457.4,415.7L458.4,416.0L459.4,416.2L460.3,416.5L461.3,416.8L462.2,417.1L463.2,417.4L464.1,417.7L465.1,417.9L466.1,418.2L467.0,418.5L468.0,418.8L468.9,419.0L469.9,419.3L470.9,419.6L471.8,419.8L472.8,420.1L473.8,420.4L474.7,420.6L475.7,420.9L476.7,421.1L477.6,421.4L478.6,421.6L479.6,421.9L480.5,422.1L481.5,422.4L482.5,422.6L483.4,422.9L484.4,423.2L485.4,423.4L486.3,423.7L487.3,423.9L488.3,424.2L489.2,424.4L490.2,424.7L491.2,425.0L492.1,425.2L493.1,425.5L494.1,425.7L495.0,426.0L496.0,426.3L497.0,426.5L497.9,426.8L498.9,427.1L499.9,427.3L500.8,427.6L501.8,427.8L502.7,428.1L503.7,428.4L504.7,428.6L505.6,428.9L506.6,429.2L507.6,429.5L508.5,429.7L509.5,430.0L510.5,430.3L511.4,430.5L512.4,430.8L513.3,431.1L514.3,431.3L515.3,431.6L516.2,431.9L517.2,432.1L518.2,432.4L519.1,432.7L520.1,432.9L521.1,433.2L522.0,433.5L523.0,433.7L524.0,434.0L524.9,434.3L525.9,434.5L526.8,434.8L527.8,435.0L528.8,435.3L529.7,435.6L530.7,435.8L531.7,436.1L532.6,436.3L533.6,436.6L534.6,436.9L535.5,437.1L536.5,437.4L537.5,437.6L538.4,437.9L539.4,438.1L540.4,438.4L541.3,438.6L542.3,438.9L543.3,439.1L544.2,439.4L545.2,439.6L546.2,439.9L547.2,440.1L548.1,440.4L549.1,440.6L550.1,440.8L551.0,441.1L552.0,441.3L553.0,441.5L554.0,441.8L554.9,442.0L555.9,442.2L556.9,442.4L557.9,442.7L558.8,442.9L559.8,443.1L560.8,443.3L561.8,443.5L562.7,443.8L563.7,444.0L564.7,444.2L565.7,444.4L566.7,444.6L567.6,444.8L568.6,445.0L569.6,445.2L570.6,445.4L571.6,445.6L572.5,445.7L573.5,445.9L574.5,446.1L575.5,446.3L576.5,446.5L577.5,446.6L578.5,446.8L579.4,446.9L580.4,447.1L581.4,447.3L582.4,447.4L583.4,447.5L584.4,447.7L585.4,447.8L586.4,448.0L587.4,448.1L588.3,448.2L589.3,448.3L590.3,448.4L591.3,448.6L592.3,448.7L593.3,448.8L594.3,448.9L595.3,449.0L596.3,449.1L597.3,449.2L598.3,449.3L599.3,449.3L600.3,449.4L601.3,449.5L602.3,449.6L603.3,449.7L604.3,449.8L605.3,449.9L606.3,449.9L607.3,450.0L608.3,450.1L609.3,450.2L610.3,450.3L611.3,450.3L612.2,450.4L613.2,450.5L614.2,450.6L615.2,450.6L616.2,450.7L617.2,450.8L618.2,450.9L619.2,451.0L620.2,451.0L621.2,451.1L622.2,451.2L623.2,451.2L624.2,451.3L625.2,451.4L626.2,451.5L627.2,451.5L628.2,451.6L629.2,451.7L630.2,451.7L631.2,451.8L632.2,451.8L633.2,451.9L634.2,452.0L635.2,452.0L636.2,452.1L637.2,452.1L638.2,452.2L639.2,452.3L640.2,452.3L641.2,452.4L642.2,452.4L643.2,452.5L644.2,452.5L645.2,452.6L646.2,452.6L647.2,452.7L648.2,452.7L649.2,452.8L650.2,452.8L651.2,452.8L652.2,452.9L653.2,452.9L654.2,453.0L655.2,453.0L656.2,453.1L657.2,453.1L658.2,453.2L659.2,453.2L660.2,453.2L661.2,453.3L662.2,453.3L663.2,453.4L664.2,453.4L665.2,453.5L666.2,453.5L667.2,453.6L668.2,453.6L669.2,453.6L670.2,453.7L671.2,453.7L672.2,453.8L673.2,453.8L674.1,453.9L675.1,453.9L676.1,454.0L677.1,454.0L678.1,454.0L679.1,454.1L680.1,454.1L681.1,454.2L682.1,454.2L683.1,454.3L684.1,454.3L685.1,454.4L686.1,454.4L687.1,454.5L688.1,454.5L689.1,454.6L690.1,454.6L691.1,454.7L692.1,454.7L693.1,454.8L694.1,454.8L695.1,454.9L696.1,454.9L697.1,455.0L698.1,455.0L699.1,455.0L700.1,455.1L701.1,455.1L702.1,455.2L703.1,455.2L704.1,455.3L705.1,455.3L706.1,455.4L707.1,455.4L708.1,455.5L709.1,455.5L710.1,455.5L711.1,455.6L712.1,455.6L713.1,455.7L714.1,455.7L715.1,455.7L716.1,455.8L717.1,455.8L718.1,455.8L719.1,455.9L720.1,455.9L721.1,456.0L722.1,456.0L723.1,456.0L724.1,456.1L725.1,456.1L726.1,456.1L727.1,456.2L728.1,456.2L729.1,456.2L730.1,456.3L731.1,456.3L732.1,456.3L733.1,456.4L734.1,456.4L735.1,456.4L736.1,456.5L737.1,456.5L738.1,456.5L739.1,456.6L740.1,456.6L741.1,456.6L742.1,456.6L743.1,456.7L744.1,456.7L745.1,456.7L746.1,456.8L747.1,456.8L748.1,456.8L749.1,456.8L750.1,456.9L751.1,456.9L752.1,456.9L753.1,456.9L754.1,456.9L755.1,457.0L756.1,457.0L757.1,457.0L758.1,457.0L759.1,457.1L760.1,457.1L761.1,457.1L762.1,457.1L763.1,457.1L764.1,457.2L765.1,457.2L766.1,457.2L767.1,457.2L768.1,457.2L769.1,457.2L770.3,457.3L776.3,457.3L776.3,461.1Z" fill="#ff7f0e" fill-opacity="0.25" stroke="#ff7f0e" stroke-opacity="0.25"/>
<path d="M165.1,461.1L165.1,413.7L171.1,411.1L172.0,410.7L172.9,410.3L173.8,409.9L174.8,409.5L175.7,409.1L176.6,408.7L177.5,408.3L178.4,407.9L179.3,407.5L180.3,407.2L181.2,406.8L182.1,406.4L183.0,406.0L184.0,405.6L184.9,405.2L185.8,404.8L186.7,404.5L187.7,404.1L188.6,403.7L189.5,403.3L190.4,403.0L191.4,402.6L192.3,402.3L193.2,401.9L194.2,401.6L195.1,401.2L196.0,400.9L197.0,400.5L197.9,400.2L198.9,399.8L199.8,399.5L200.8,399.2L201.7,398.8L202.6,398.5L203.6,398.2L204.5,397.9L205.5,397.5L206.4,397.2L207.4,396.9L208.3,396.6L209.3,396.3L210.2,396.0L211.2,395.7L212.1,395.4L213.1,395.1L214.1,394.8L215.0,394.5L216.0,394.2L216.9,393.9L217.9,393.6L218.8,393.3L219.8,393.0L220.8,392.8L221.7,392.5L222.7,392.2L223.6,391.9L224.6,391.7L225.6,391.4L226.5,391.1L227.5,390.9L228.5,390.6L229.4,390.4L230.4,390.1L231.4,389.9L232.3,389.6L233.3,389.4L234.3,389.1L235.3,388.9L236.2,388.7L237.2,388.4L238.2,388.2L239.2,388.0L240.1,387.8L241.1,387.6L242.1,387.4L243.1,387.1L244.0,386.9L245.0,386.7L246.0,386.5L247.0,386.3L248.0,386.1L248.9,386.0L249.9,385.8L250.9,385.6L251.9,385.4L252.9,385.2L253.9,385.0L254.8,384.8L255.8,384.7L256.8,384.5L257.8,384.3L258.8,384.1L259.8,383.9L260.7,383.8L261.7,383.6L262.7,383.4L263.7,383.2L264.7,383.1L265.7,382.9L266.7,382.7L267.6,382.5L268.6,382.4L269.6,382.2L270.6,382.0L271.6,381.8L272.6,381.7L273.6,381.5L274.5,381.4L275.5,381.2L276.5,381.0L277.5,380.9L278.5,380.7L279.5,380.6L280.5,380.4L281.5,380.3L282.4,380.2L283.4,380.0L284.4,379.9L285.4,379.8L286.4,379.7L287.4,379.5L288.4,379.4L289.4,379.3L290.4,379.2L291.4,379.2L292.4,379.1L293.4,379.0L294.4,378.9L295.4,378.8L296.4,378.8L297.4,378.7L298.4,378.6L299.4,378.6L300.4,378.5L301.4,378.5L302.4,378.4L303.4,378.4L304.4,378.4L305.4,378.3L306.4,378.3L307.4,378.3L308.4,378.3L309.4,378.3L310.4,378.3L311.4,378.2L312.4,378.2L313.4,378.3L314.4,378.3L315.4,378.3L316.4,378.3L317.4,378.3L318.4,378.3L319.4,378.3L320.4,378.4L321.4,378.4L322.4,378.4L323.4,378.5L324.4,378.5L325.4,378.5L326.4,378.6L327.4,378.6L328.4,378.7L329.4,378.7L330.4,378.8L331.4,378.8L332.4,378.9L333.4,378.9L334.4,379.0L335.4,379.1L336.4,379.1L337.4,379.2L338.4,379.2L339.4,379.3L340.4,379.4L341.3,379.5L342.3,379.5L343.3,379.6L344.3,379.7L345.3,379.8L346.3,379.8L347.3,379.9L348.3,380.0L349.3,380.1L350.3,380.2L351.3,380.3L352.3,380.4L353.3,380.5L354.3,380.6L355.3,380.7L356.3,380.8L357.3,380.9L358.3,381.0L359.3,381.1L360.3,381.2L361.3,381.4L362.2,381.5L363.2,381.6L364.2,381.7L365.2,381.9L366.2,382.0L367.2,382.1L368.2,382.3L369.2,382.4L370.2,382.5L371.2,382.7L372.2,382.8L373.1,383.0L374.1,383.1L375.1,383.3L376.1,383.4L377.1,383.6L378.1,383.8L379.1,383.9L380.1,384.1L381.0,384.2L382.0,384.4L383.0,384.6L384.0,384.7L385.0,384.9L386.0,385.1L387.0,385.2L387.9,385.4L388.9,385.6L389.9,385.8L390.9,385.9L391.9,386.1L392.9,386.3L393.9,386.5L394.8,386.6L395.8,386.8L396.8,387.0L397.8,387.2L398.8,387.3L399.8,387.5L400.7,387.7L401.7,387.9L402.7,388.0L403.7,388.2L404.7,388.4L405.7,388.6L406.7,388.7L407.6,388.9L408.6,389.1L409.6,389.3L410.6,389.4L411.6,389.6L412.6,389.8L413.5,390.0L414.5,390.1L415.5,390.3L416.5,390.5L417.5,390.6L418.5,390.8L419.5,391.0L420.4,391.2L421.4,391.3L422.4,391.5L423.4,391.7L424.4,391.9L425.4,392.0L426.4,392.2L427.3,392.4L428.3,392.6L429.3,392.7L430.3,392.9L431.3,393.1L432.3,393.3L433.2,393.5L434.2,393.7L435.2,393.8L436.2,394.0L437.2,394.2L438.2,394.4L439.1,394.6L440.1,394.8L441.1,394.9L442.1,395.1L443.1,395.3L444.0,395.5L445.0,395.7L446.0,395.9L447.0,396.1L448.0,396.3L449.0,396.5L449.9,396.7L450.9,396.9L451.9,397.1L452.9,397.3L453.9,397.5L454.8,397.7L455.8,397.9L456.8,398.1L457.8,398.3L458.8,398.5L459.7,398.7L460.7,398.9L461.7,399.1L462.7,399.3L463.7,399.5L464.6,399.7L465.6,399.9L466.6,400.1L467.6,400.3L468.5,400.5L469.5,400.7L470.5,400.9L471.5,401.1L472.5,401.3L473.4,401.5L474.4,401.7L475.4,401.9L476.4,402.1L477.4,402.4L478.3,402.6L479.3,402.8L480.3,403.0L481.3,403.2L482.2,403.4L483.2,403.6L484.2,403.8L485.2,404.0L486.2,404.2L487.1,404.4L488.1,404.6L489.1,404.9L490.1,405.1L491.0,405.3L492.0,405.5L493.0,405.7L494.0,405.9L495.0,406.1L495.9,406.3L496.9,406.5L497.9,406.7L498.9,407.0L499.8,407.2L500.8,407.4L501.8,407.6L502.8,407.8L503.7,408.0L504.7,408.2L505.7,408.5L506.7,408.7L507.7,408.9L508.6,409.1L509.6,409.3L510.6,409.5L511.6,409.8L512.5,410.0L513.5,410.2L514.5,410.4L515.5,410.6L516.4,410.9L517.4,411.1L518.4,411.3L519.4,411.5L520.3,411.8L521.3,412.0L522.3,412.2L523.3,412.4L524.2,412.6L525.2,412.9L526.2,413.1L527.2,413.3L528.1,413.5L529.1,413.7L530.1,413.9L531.1,414.1L532.0,414.4L533.0,414.6L534.0,414.8L535.0,415.0L536.0,415.2L536.9,415.4L537.9,415.6L538.9,415.8L539.9,416.0L540.9,416.2L541.8,416.4L542.8,416.6L543.8,416.8L544.8,417.0L545.8,417.2L546.7,417.4L547.7,417.5L548.7,417.7L549.7,417.9L550.7,418.1L551.7,418.3L552.6,418.5L553.6,418.7L554.6,418.9L555.6,419.1L556.6,419.2L557.5,419.4L558.5,419.6L559.5,419.8L560.5,420.0L561.5,420.2L562.5,420.4L563.4,420.5L564.4,420.7L565.4,420.9L566.4,421.1L567.4,421.3L568.4,421.5L569.3,421.7L570.3,421.9L571.3,422.0L572.3,422.2L573.3,422.4L574.2,422.6L575.2,422.8L576.2,423.0L577.2,423.2L578.2,423.4L579.2,423.6L580.1,423.7L581.1,423.9L582.1,424.1L583.1,424.3L584.1,424.5L585.0,424.7L586.0,424.9L587.0,425.1L588.0,425.3L589.0,425.5L590.0,425.7L590.9,425.9L591.9,426.1L592.9,426.2L593.9,426.4L594.9,426.6L595.8,426.8L596.8,427.0L597.8,427.2L598.8,427.4L599.8,427.6L600.8,427.8L601.7,427.9L602.7,428.1L603.7,428.3L604.7,428.5L605.7,428.7L606.7,428.9L607.6,429.0L608.6,429.2L609.6,429.4L610.6,429.5L611.6,429.7L612.6,429.9L613.5,430.0L614.5,430.2L615.5,430.4L616.5,430.5L617.5,430.7L618.5,430.8L619.5,431.0L620.5,431.1L621.5,431.3L622.4,431.4L623.4,431.6L624.4,431.7L625.4,431.9L626.4,432.0L627.4,432.2L628.4,432.3L629.4,432.5L630.4,432.6L631.3,432.7L632.3,432.9L633.3,433.0L634.3,433.1L635.3,433.3L636.3,433.4L637.3,433.5L638.3,433.7L639.3,433.8L640.3,433.9L641.3,434.0L642.3,434.2L643.2,434.3L644.2,434.4L645.2,434.5L646.2,434.7L647.2,434.8L648.2,434.9L649.2,435.0L650.2,435.1L651.2,435.2L652.2,435.4L653.2,435.5L654.2,435.6L655.2,435.7L656.2,435.8L657.2,435.9L658.1,436.0L659.1,436.2L660.1,436.3L661.1,436.4L662.1,436.5L663.1,436.6L664.1,436.7L665.1,436.8L666.1,436.9L667.1,437.0L668.1,437.1L669.1,437.2L670.1,437.3L671.1,437.4L672.1,437.6L673.1,437.7L674.1,437.8L675.0,437.9L676.0,438.0L677.0,438.1L678.0,438.2L679.0,438.3L680.0,438.4L681.0,438.5L682.0,438.6L683.0,438.7L684.0,438.8L685.0,438.9L686.0,439.0L687.0,439.1L688.0,439.2L689.0,439.3L690.0,439.4L691.0,439.5L692.0,439.6L693.0,439.7L694.0,439.7L694.9,439.8L695.9,439.9L696.9,440.0L697.9,440.1L698.9,440.2L699.9,440.3L700.9,440.4L701.9,440.5L702.9,440.5L703.9,440.6L704.9,440.7L705.9,440.8L706.9,440.9L707.9,440.9L708.9,441.0L709.9,441.1L710.9,441.2L711.9,441.3L712.9,441.3L713.9,441.4L714.9,441.5L715.9,441.6L716.9,441.6L717.9,441.7L718.9,441.8L719.9,441.8L720.9,441.9L721.9,442.0L722.9,442.1L723.9,442.1L724.9,442.2L725.9,442.3L726.9,442.3L727.9,442.4L728.8,442.4L729.8,442.5L730.8,442.6L731.8,442.6L732.8,442.7L733.8,442.8L734.8,442.8L735.8,442.9L736.8,442.9L737.8,443.0L738.8,443.0L739.8,443.1L740.8,443.2L741.8,443.2L742.8,443.3L743.8,443.3L744.8,443.4L745.8,443.4L746.8,443.5L747.8,443.5L748.8,443.6L749.8,443.6L750.8,443.7L751.8,443.7L752.8,443.8L753.8,443.8L754.8,443.9L755.8,443.9L756.8,444.0L757.8,444.0L758.8,444.1L759.8,444.1L760.8,444.2L761.8,444.2L762.8,444.3L763.8,444.3L764.8,444.4L765.8,444.4L766.8,444.5L767.8,444.5L768.8,444.6L769.8,444.6L770.3,444.7L776.3,444.7L776.3,461.1Z" fill="#1f77b4" fill-opacity="0.25" stroke="#1f77b4" stroke-opacity="0.25"/>
</g>
<g stroke="#000" stroke-width="3.33" fill="none" stroke-linecap="butt">
<path d="M171.1,29.8V462.8"/>
<path d="M169.4,461.1H772.0"/>
<path d="M171.1,461.1v14.6"/>
<path d="M320.9,461.1v14.6"/>
<path d="M470.7,461.1v14.6"/>
<path d="M620.5,461.1v14.6"/>
<path d="M770.3,461.1v14.6"/>
<path d="M171.1,461.1h-14.6"/>
<path d="M171.1,392.7h-14.6"/>
<path d="M171.1,324.4h-14.6"/>
<path d="M171.1,256.0h-14.6"/>
<path d="M171.1,187.6h-14.6"/>
<path d="M171.1,119.3h-14.6"/>
<path d="M171.1,50.9h-14.6"/>
</g>
<text transform="translate(171.1,512.8) scale(1,1.045)" text-anchor="middle">0</text>
<text transform="translate(320.9,512.8) scale(1,1.045)" text-anchor="middle">5</text>
<text transform="translate(470.7,512.8) scale(1,1.045)" text-anchor="middle">10</text>
<text transform="translate(620.5,512.8) scale(1,1.045)" text-anchor="middle">15</text>
<text transform="translate(770.3,512.8) scale(1,1.045)" text-anchor="middle">20</text>
<text transform="translate(142.6,472.3) scale(1,1.045)" text-anchor="end">0.00</text>
<text transform="translate(142.6,403.9) scale(1,1.045)" text-anchor="end">0.01</text>
<text transform="translate(142.6,335.6) scale(1,1.045)" text-anchor="end">0.02</text>
<text transform="translate(142.6,267.2) scale(1,1.045)" text-anchor="end">0.03</text>
<text transform="translate(142.6,198.8) scale(1,1.045)" text-anchor="end">0.04</text>
<text transform="translate(142.6,130.5) scale(1,1.045)" text-anchor="end">0.05</text>
<text transform="translate(142.6,62.1) scale(1,1.045)" text-anchor="end">0.06</text>
<text transform="translate(470.7,556.6) scale(1,1.045)" text-anchor="middle">Number of Code Solutions</text>
<text transform="translate(55.4,246.3) rotate(-90) scale(1,1.045)" text-anchor="middle">Problem Probability Density</text>
<rect x="552.2" y="86.15" width="62.5" height="24.3" fill="#1f77b4" fill-opacity="0.25"/>
<path d="M555.3,108.35V89.25H611.6V108.35" fill="none" stroke="#1f77b4" stroke-opacity="0.25" stroke-width="2.08"/>
<text transform="translate(635.9,107.9) scale(1,1.045)">rank #1</text>
<rect x="552.2" y="128.70" width="62.5" height="24.3" fill="#ff7f0e" fill-opacity="0.25"/>
<path d="M555.3,150.90V131.80H611.6V150.90" fill="none" stroke="#ff7f0e" stroke-opacity="0.25" stroke-width="2.08"/>
<text transform="translate(635.9,150.6) scale(1,1.045)">rank #2</text>
<rect x="552.2" y="171.25" width="62.5" height="24.3" fill="#2ca02c" fill-opacity="0.25"/>
<path d="M555.3,193.45V174.35H611.6V193.45" fill="none" stroke="#2ca02c" stroke-opacity="0.25" stroke-width="2.08"/>
<text transform="translate(635.9,193.2) scale(1,1.045)">rank #3</text>
<rect x="552.2" y="213.80" width="62.5" height="24.3" fill="#d62728" fill-opacity="0.25"/>
<path d="M555.3,236.00V216.90H611.6V236.00" fill="none" stroke="#d62728" stroke-opacity="0.25" stroke-width="2.08"/>
<path d="M554.3,235.50H612.6" fill="none" stroke="#d62728" stroke-opacity="0.25" stroke-width="1.0"/>
<text transform="translate(635.9,235.8) scale(1,1.045)">rank #4</text>
<rect x="552.2" y="256.35" width="62.5" height="24.3" fill="#9467bd" fill-opacity="0.25"/>
<path d="M555.3,278.55V259.45H611.6V278.55" fill="none" stroke="#9467bd" stroke-opacity="0.25" stroke-width="2.08"/>
<text transform="translate(635.9,278.5) scale(1,1.045)">rank #5</text>
</svg></body></html>
